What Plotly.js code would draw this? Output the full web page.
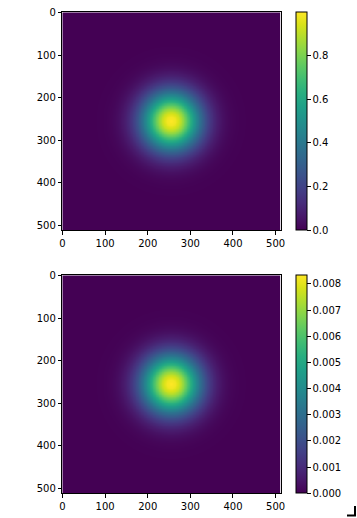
<!DOCTYPE html>
<html>
<head>
<meta charset="utf-8">
<script src="https://cdn.plot.ly/plotly-3.0.1.min.js"></script>
<style>html,body{margin:0;padding:0;background:#fff;}#chart{width:357px;height:518px;}</style>
</head>
<body>
<div id="chart"></div>
<script>
// Radial profile of the blob (distance from centre in px -> relative value)
const radii   = [0, 10, 20, 30, 40, 50, 60, 70, 80, 90, 100, 110, 120, 130, 140, 150, 160, 170, 180, 200, 250, 400];
const profile = [1.000, 0.979, 0.917, 0.823, 0.707, 0.581, 0.458, 0.345, 0.249, 0.172, 0.114, 0.072, 0.044, 0.026, 0.014, 0.0076, 0.0039, 0.0019, 0.0009, 0.0002, 0.0, 0.0];
const peakTop = 1.0;
const peakBottom = 0.00834;
const gridSize = 512;
const centre = 255.5;
const axisTicks = [0, 100, 200, 300, 400, 500];

function lookup(r) {
  for (let i = 1; i < radii.length; i++) {
    if (r <= radii[i]) {
      const t = (r - radii[i-1]) / (radii[i] - radii[i-1]);
      return profile[i-1] + t * (profile[i] - profile[i-1]);
    }
  }
  return profile[profile.length - 1];
}
function buildGrid(peak) {
  const z = [];
  for (let j = 0; j < gridSize; j++) {
    const row = new Array(gridSize);
    for (let i = 0; i < gridSize; i++) {
      const r = Math.hypot(i - centre, j - centre);
      row[i] = peak * lookup(r);
    }
    z.push(row);
  }
  return z;
}

const W = 357, H = 518;
const px = v => v / W, py = v => 1 - v / H;
const font = {family: 'DejaVu Sans, sans-serif', size: 10, color: '#000'};

function axis(domain, reversed, anchor) {
  return {
    domain: domain,
    range: reversed ? [gridSize - 0.5, -0.5] : [-0.5, gridSize - 0.5],
    tickmode: 'array', tickvals: axisTicks, ticktext: axisTicks.map(String),
    ticks: 'outside', ticklen: 3.5, tickwidth: 1, tickcolor: '#000',
    showline: true, mirror: true, linecolor: '#000', linewidth: 1,
    showgrid: false, zeroline: false, anchor: anchor, tickfont: font,
    fixedrange: true
  };
}
function cbar(yc, dtick, fmt) {
  return {
    x: px(296.3), xanchor: 'left', y: yc, yanchor: 'middle',
    lenmode: 'pixels', len: 218, thicknessmode: 'pixels', thickness: 11,
    outlinewidth: 1, outlinecolor: '#000', xpad: 0, ypad: 0,
    tickmode: 'linear', tick0: 0, dtick: dtick, tickformat: fmt,
    ticks: 'outside', ticklen: 3.5, tickwidth: 1, tickcolor: '#000', tickfont: font
  };
}

const traces = [
  {type: 'heatmap', z: buildGrid(peakTop), colorscale: 'Viridis', xaxis: 'x', yaxis: 'y',
   colorbar: cbar(py((12.3 + 230) / 2), 0.2, '.1f'), hoverinfo: 'skip'},
  {type: 'heatmap', z: buildGrid(peakBottom), colorscale: 'Viridis', xaxis: 'x2', yaxis: 'y2',
   colorbar: cbar(py((275.3 + 493.3) / 2), 0.001, '.3f'), hoverinfo: 'skip'}
];

const layout = {
  width: W, height: H, margin: {l: 0, r: 0, t: 0, b: 0},
  paper_bgcolor: '#fff', plot_bgcolor: '#fff', showlegend: false, font: font,
  xaxis: axis([px(62.3), px(280.5)], false, 'y'),
  yaxis: axis([py(230), py(12.3)], true, 'x'),
  xaxis2: axis([px(62.3), px(280.5)], false, 'y2'),
  yaxis2: axis([py(493.3), py(275.3)], true, 'x2'),
  shapes: [
    {type: 'line', xref: 'paper', yref: 'paper', x0: px(355), x1: px(355), y0: py(506), y1: py(516), line: {color: '#000', width: 2}},
    {type: 'line', xref: 'paper', yref: 'paper', x0: px(347), x1: px(356), y0: py(515.5), y1: py(515.5), line: {color: '#000', width: 2}}
  ]
};

Plotly.newPlot('chart', traces, layout, {displayModeBar: false, staticPlot: true});
</script>
</body>
</html>
